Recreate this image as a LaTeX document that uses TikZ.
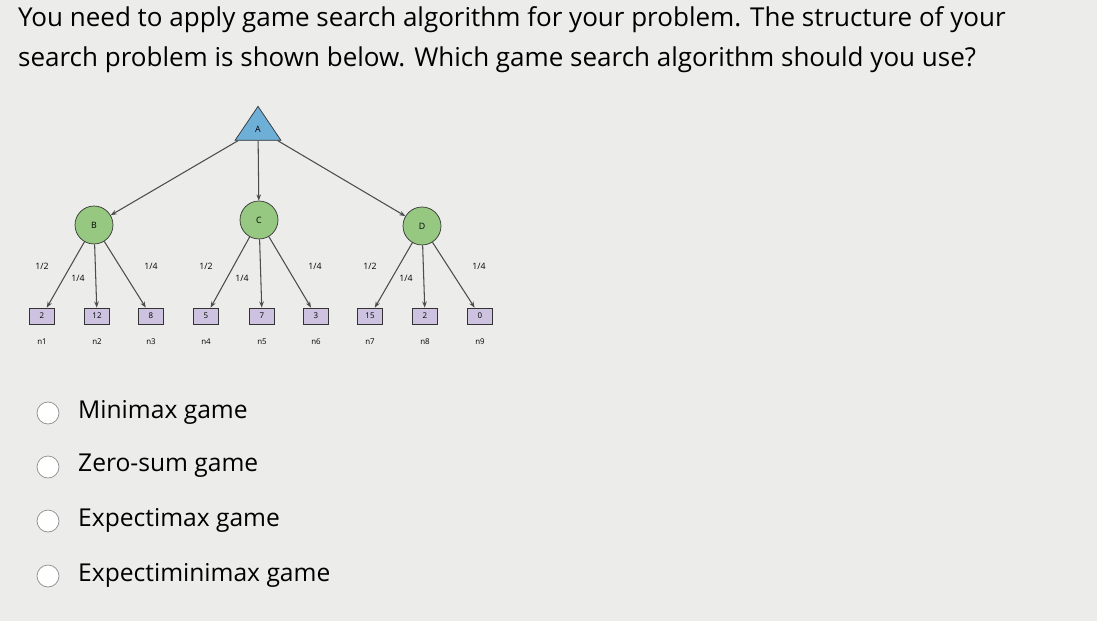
\documentclass[tikz,border=0pt]{standalone}
\usepackage{fontspec}
\setmainfont{Open Sans}
\usetikzlibrary{arrows.meta, shapes.geometric}
\definecolor{bgray}{RGB}{236,236,234}
\definecolor{maxblue}{RGB}{110,175,215}
\definecolor{chancegreen}{RGB}{150,200,130}
\definecolor{leafpurple}{RGB}{205,195,225}
\tikzset{
    maxnode/.style={
        isosceles triangle,
        isosceles triangle apex angle=68,
        shape border rotate=90,
        draw=black!80,
        fill=maxblue,
        inner sep=0.6pt,
        minimum height=0.68cm,
        font=\fontsize{5}{6}\selectfont
    },
    chance/.style={
        circle,
        draw=black!80,
        fill=chancegreen,
        minimum size=0.76cm,
        font=\fontsize{5}{6}\selectfont
    },
    leaf/.style={
        rectangle,
        draw=black!80,
        fill=leafpurple,
        minimum width=0.5cm,
        minimum height=0.32cm,
        inner sep=0pt,
        font=\fontsize{4.5}{5}\selectfont
    },
    edge/.style={
        draw=black!70,
        semithick,
        -{Stealth[length=3.5pt]}
    },
    prob/.style={
        font=\fontsize{5}{6}\selectfont
    },
    leafname/.style={
        font=\fontsize{4.5}{5}\selectfont\rmfamily
    },
    radio/.style={
        circle,
        draw=black!45,
        fill=white,
        minimum size=0.44cm
    },
    answer/.style={
        anchor=west,
        font=\fontsize{14}{16}\selectfont
    }
}
\begin{document}
\begin{tikzpicture}[x=0.02cm, y=-0.02cm]
\fill[bgray] (0,0) rectangle (1097,621);
\useasboundingbox (0,0) rectangle (1097,621);

% Question
\node[anchor=west, font=\fontsize{14.8}{16}\selectfont] (q1) at (12,20) {You need to apply game search algorithm for your problem. The structure of your};
\node[anchor=west, font=\fontsize{14.8}{16}\selectfont] (q2) at (12,60) {search problem is shown below. Which game search algorithm should you use?};

% Tree
\node[maxnode] (A) at (258,129) {A};
\node[chance] (B) at (94,225) {B};
\node[chance] (C) at (259,220) {C};
\node[chance] (D) at (422,226) {D};

\draw[edge] (A) -- (B);
\draw[edge] (A) -- (C);
\draw[edge] (A) -- (D);

% Leaves
\foreach \name/\x/\v in {1/42/2, 2/97/12, 3/151/8, 4/206/5, 5/262/7, 6/316/3, 7/370/15, 8/425/2, 9/480/0} {
    \node[leaf] (n\name) at (\x,316) {\v};
    \node[leafname] (l\name) at (\x,342) {n\name};
}

\draw[edge] (B) -- (n1);
\draw[edge] (B) -- (n2);
\draw[edge] (B) -- (n3);
\draw[edge] (C) -- (n4);
\draw[edge] (C) -- (n5);
\draw[edge] (C) -- (n6);
\draw[edge] (D) -- (n7);
\draw[edge] (D) -- (n8);
\draw[edge] (D) -- (n9);

% Probabilities
\foreach \x in {42, 206, 370} {
    \node[prob] at (\x,266) {1/2};
}
\foreach \x in {78, 242, 406} {
    \node[prob] at (\x,278) {1/4};
}
\foreach \x in {151, 315, 479} {
    \node[prob] at (\x,266) {1/4};
}

% Answers
\node[radio] (r1) at (48,413) {};
\node[radio] (r2) at (48,467) {};
\node[radio] (r3) at (48,521) {};
\node[radio] (r4) at (48,576) {};
\node[answer] (a1) at (72,412) {Minimax game};
\node[answer] (a2) at (72,466) {Zero-sum game};
\node[answer] (a3) at (72,520) {Expectimax game};
\node[answer] (a4) at (72,575) {Expectiminimax game};
\end{tikzpicture}
\end{document}
